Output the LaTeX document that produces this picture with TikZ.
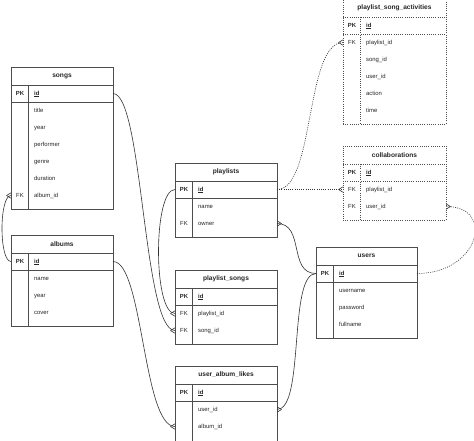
\documentclass[tikz,border=0pt]{standalone}
\usepackage{fontspec}
\setmainfont{Liberation Sans}
\usetikzlibrary{calc}
\definecolor{lc}{HTML}{4D4D4D}
\definecolor{tc}{HTML}{262626}
\definecolor{cc}{HTML}{333333}
\tikzset{
  frame/.style={draw=lc, line width=0.75pt, inner sep=0pt, outer sep=0pt},
  sep/.style={draw=lc, line width=0.75pt},
  dots/.style={dash pattern=on 1pt off 1.2pt},
  ttl/.style={font=\bfseries\fontsize{6.6}{7.5}\selectfont, text=tc, inner sep=0pt},
  fld/.style={font=\fontsize{5.9}{6.8}\selectfont, text=tc, inner sep=0pt, text height=4.3pt, text depth=1.3pt, anchor=west},
  keyc/.style={fld, anchor=center},
  rel/.style={draw=cc, line width=0.6pt},
  foot/.style={draw=cc, line width=0.6pt, solid},
}
\newcommand\ertable[8][]{%
  \pgfmathsetmacro\ertabh{40+17*#7}%
  \node[frame,#1,minimum width=#5pt,minimum height=\ertabh pt,anchor=north west] (#2) at (#3,#4) {};
  \node[ttl] (#2-t) at ($(#2.north)+(0,9)$) {#6};
  \draw[sep,#1] ($(#2.north west)+(0,18)$) -- ($(#2.north east)+(0,18)$);
  \draw[sep,#1] ($(#2.north west)+(0,35)$) -- ($(#2.north east)+(0,35)$);
  \draw[sep,#1] ($(#2.north west)+(17.5,18)$) -- ($(#2.south west)+(17.5,0)$);
  \node[keyc,font=\bfseries\fontsize{5.9}{6.8}\selectfont] (#2-pk) at ($(#2.north west)+(9,26.5)$) {PK};
  \node[fld,font=\bfseries\fontsize{5.9}{6.8}\selectfont] (#2-0) at ($(#2.north west)+(23,26.5)$) {\underline{id}};
  \foreach \k/\f [count=\i] in {#8} {
    \node[keyc] (#2-k\i) at ($(#2.north west)+(9,{26.5+17*\i})$) {\k};
    \node[fld] (#2-\i) at ($(#2.north west)+(23,{26.5+17*\i})$) {\f};
  }%
}
\newcommand\crowft[2]{%
  \draw[foot] (#1) ++({#2*4.5},0) -- ++({-(#2)*4.5},2.7);
  \draw[foot] (#1) ++({#2*4.5},0) -- ++({-(#2)*4.5},-2.7);
}
\begin{document}
\begin{tikzpicture}[x=1pt,y=-1pt]
\useasboundingbox (0,0) rectangle (474,440);
\clip (0,0) rectangle (474,440);
\fill[white] (0,0) rectangle (474,440);

\ertable{songs}{11}{67}{102}{songs}{6}{/title,/year,/performer,/genre,/duration,FK/album\_id}
\ertable{albums}{11}{235}{102}{albums}{3}{/name,/year,/cover}
\ertable{playlists}{175}{163}{102}{playlists}{2}{/name,FK/owner}
\ertable{ps}{175}{270}{102}{playlist\_songs}{2}{FK/playlist\_id,FK/song\_id}
\ertable{ual}{175}{366}{102}{user\_album\_likes}{3}{/user\_id,/album\_id}
\ertable[dots]{psa}{343}{-1}{103}{playlist\_song\_activities}{5}{FK/playlist\_id,/song\_id,/user\_id,/action,/time}
\ertable[dots]{collab}{343}{146}{103}{collaborations}{2}{FK/playlist\_id,FK/user\_id}
\ertable{users}{316}{247}{101}{users}{3}{/username,/password,/fullname}

% solid relations
\draw[rel] (songs.east |- songs-0) .. controls +(30,0) and +(-32,0) .. (ps.west |- ps-2);
\crowft{ps.west |- ps-2}{-1}
\draw[rel] (albums.east |- albums-0) .. controls +(30,0) and +(-32,0) .. (ual.west |- ual-2);
\crowft{ual.west |- ual-2}{-1}
\draw[rel] (albums.west |- albums-0) .. controls +(-12,0) and +(-12,0) .. (songs.west |- songs-6);
\crowft{songs.west |- songs-6}{-1}
\draw[rel] (playlists.west |- playlists-0) .. controls +(-22,0) and +(-22,0) .. (ps.west |- ps-1);
\crowft{ps.west |- ps-1}{-1}
\draw[rel] (users.west |- users-0) .. controls +(-28,0) and +(28,0) .. (playlists.east |- playlists-2);
\crowft{playlists.east |- playlists-2}{1}
\draw[rel] (users.west |- users-0) .. controls +(-28,0) and +(28,0) .. (ual.east |- ual-1);
\crowft{ual.east |- ual-1}{1}

% dotted relations
\draw[rel,dots] (playlists.east |- playlists-0) -- (collab.west |- collab-1);
\crowft{collab.west |- collab-1}{-1}
\draw[rel,dots] (playlists.east |- playlists-0) .. controls +(38,0) and +(-38,0) .. (psa.west |- psa-1);
\crowft{psa.west |- psa-1}{-1}
\draw[rel,dots] (users.east |- users-0) .. controls +(62,0) and +(50,0) .. (collab.east |- collab-2);
\crowft{collab.east |- collab-2}{1}
\end{tikzpicture}
\end{document}
